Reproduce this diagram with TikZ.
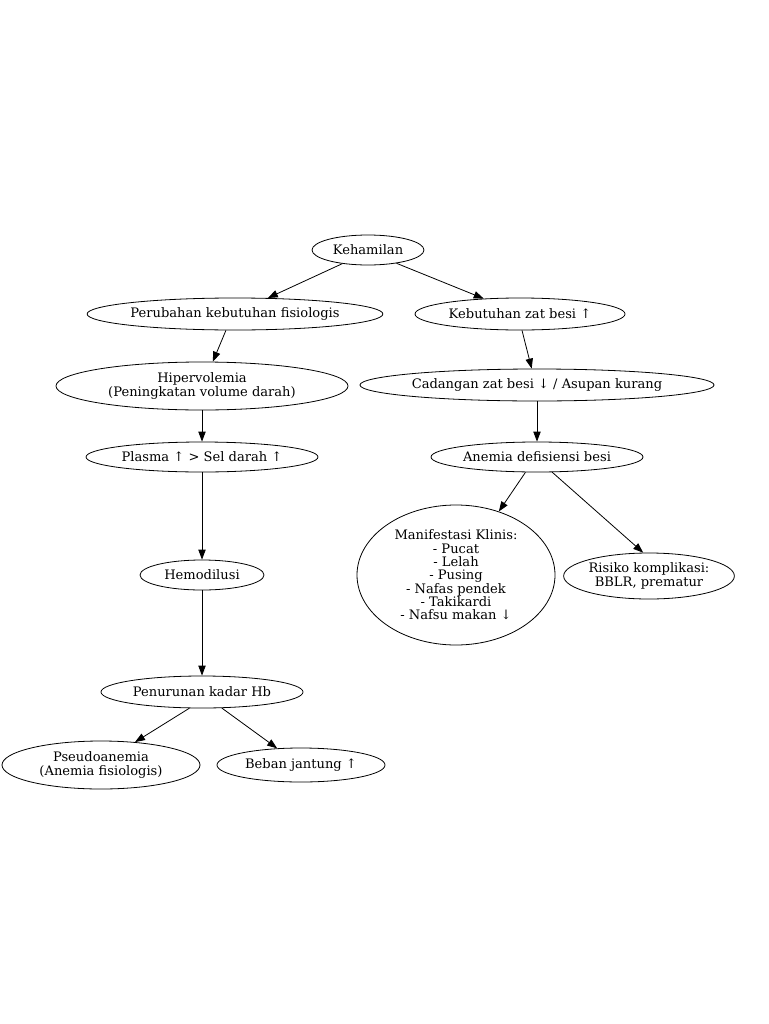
\documentclass[tikz,border=0pt]{standalone}
\usepackage{fontspec}
\setmainfont{DejaVu Serif}
\usepackage{tikz}
\usetikzlibrary{shapes.geometric, arrows.meta, positioning}
\tikzstyle{blob} = [ellipse,
draw=black, line width=0.6pt,
inner sep=0pt,
align=center,
font=\fontsize{9.8}{10}\selectfont]
\tikzstyle{arrow} = [line width=0.6pt,-{Triangle[length=7.5pt,width=5.5pt]}]

\begin{document}
\begin{tikzpicture}[x=0.75pt, y=-0.75pt]
            \useasboundingbox (0,0) rectangle (768,1024);
            % left branch
            \node (hamil) [blob, minimum width=84pt, minimum height=22.5pt] at (368,250) {Kehamilan};
            \node (ubah) [blob, minimum width=220.5pt, minimum height=24pt] at (235,314) {Perubahan kebutuhan fisiologis};
            \node (hiper) [blob, minimum width=219pt, minimum height=36pt] at (202,386) {Hipervolemia\\(Peningkatan volume darah)};
            \node (plasma) [blob, minimum width=174pt, minimum height=22.5pt] at (202,457) {Plasma ↑ > Sel darah ↑};
            \node (dilusi) [blob, minimum width=93pt, minimum height=22.5pt] at (202,575) {Hemodilusi};
            \node (hb) [blob, minimum width=151.5pt, minimum height=24pt] at (202,692) {Penurunan kadar Hb};
            \node (pseudo) [blob, minimum width=148.5pt, minimum height=36pt] at (101,765) {Pseudoanemia\\(Anemia fisiologis)};
            \node (jantung) [blob, minimum width=126pt, minimum height=25.5pt] at (301,765) {Beban jantung ↑};
            % right branch
            \node (besi) [blob, minimum width=157.5pt, minimum height=24pt] at (520,314) {Kebutuhan zat besi ↑};
            \node (cadang) [blob, minimum width=265.5pt, minimum height=24pt] at (537,385) {Cadangan zat besi ↓ / Asupan kurang};
            \node (anemia) [blob, minimum width=159pt, minimum height=22.5pt] at (537,457) {Anemia defisiensi besi};
            \node (klinis) [blob, minimum width=148.5pt, minimum height=105pt] at (456,575) {Manifestasi Klinis:\\- Pucat\\- Lelah\\- Pusing\\- Nafas pendek\\- Takikardi\\- Nafsu makan ↓};
            \node (risiko) [blob, minimum width=115.5pt, minimum height=34.5pt] at (649,576) {Risiko komplikasi:\\BBLR, prematur};

            \draw [arrow] (hamil.208) -- (ubah.26);
            \draw [arrow] (hamil.335) -- (besi.157);
            \draw [arrow] (ubah.241) -- (hiper.66);
            \draw [arrow] (hiper) -- (plasma);
            \draw [arrow] (plasma) -- (dilusi);
            \draw [arrow] (dilusi) -- (hb);
            \draw [arrow] (hb.232) -- (pseudo.34);
            \draw [arrow] (hb.321) -- (jantung.145);
            \draw [arrow] (besi.277) -- (cadang.108);
            \draw [arrow] (cadang) -- (anemia);
            \draw [arrow] (anemia.233) -- (klinis.56);
            \draw [arrow] (anemia.315) -- (risiko.104);
        \end{tikzpicture}
\end{document}
